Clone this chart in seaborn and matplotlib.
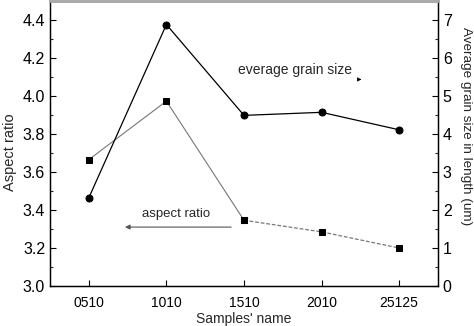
import matplotlib
matplotlib.use("Agg")
import matplotlib.pyplot as plt
import seaborn as sns
import pandas as pd
import numpy as np
from matplotlib.ticker import MultipleLocator

samples = ["0510", "1010", "1510", "2010", "25125"]
aspect_ratio = [3.665, 3.973, 3.346, 3.285, 3.20]
grain_size = [2.32, 6.88, 4.49, 4.57, 4.11]

sns.set_style("ticks")
plt.rcParams['font.family'] = ['Liberation Sans', 'DejaVu Sans']

df = pd.DataFrame({"pos": np.arange(len(samples)), "sample": samples,
                   "aspect": aspect_ratio, "grain": grain_size})

fig = plt.figure(figsize=(4.74, 3.26), dpi=100)
ax = fig.add_axes([0.1055, 0.1227, 0.8185, 0.8743])
ax2 = ax.twinx()

# aspect ratio (left axis): solid for first part, dashed afterwards
sns.lineplot(data=df.iloc[:3], x="pos", y="aspect", ax=ax, color="#777777",
             lw=0.8, marker="s", markersize=4.5, markerfacecolor="black",
             markeredgecolor="black")
sns.lineplot(data=df.iloc[2:], x="pos", y="aspect", ax=ax, color="#777777",
             lw=0.9, linestyle=(0, (3, 1.5)), marker="s", markersize=4.5,
             markerfacecolor="black", markeredgecolor="black")
# grain size (right axis)
sns.lineplot(data=df, x="pos", y="grain", ax=ax2, color="black", lw=0.9,
             marker="o", markersize=5, markerfacecolor="black",
             markeredgecolor="black")

ax.set_xlim(-0.5, len(samples) - 0.5)
ax.set_ylim(3.0, 4.5)
ax2.set_ylim(0, 7.5)
ax.set_xticks(df["pos"])
ax.set_xticklabels(samples)
ax.yaxis.set_major_locator(MultipleLocator(0.2))
ax.yaxis.set_minor_locator(MultipleLocator(0.1))
ax.yaxis.set_major_formatter(matplotlib.ticker.FormatStrFormatter("%.1f"))
ax2.yaxis.set_major_locator(MultipleLocator(1))
ax2.yaxis.set_minor_locator(MultipleLocator(0.5))

for a in (ax, ax2):
    a.tick_params(direction="in", length=4, width=0.8, labelsize=11.5, colors="black")
    a.tick_params(which="minor", direction="in", length=2.5, width=0.8)
ax.tick_params(axis="x", labelsize=10, pad=7)
ax2.spines["top"].set_visible(True)
ax2.spines["right"].set_visible(True)
for a in (ax, ax2):
    for s in ["left", "right", "bottom"]:
        a.spines[s].set_color("black")
        a.spines[s].set_linewidth(0.9)
    a.spines["top"].set_color("#aaaaaa")
    a.spines["top"].set_linewidth(2)

ax.set_xlabel("Samples' name", fontsize=10, labelpad=2)
ax.set_ylabel("Aspect ratio", fontsize=10.5)
ax.yaxis.set_label_coords(-0.085, 0.47)
ax2.set_ylabel("Average grain size in length (um)", fontsize=9.7,
               rotation=270, va="bottom")
ax2.yaxis.set_label_coords(1.057, 0.56)

# annotations
ax.annotate("", xy=(0.43, 3.31), xytext=(1.87, 3.31), xycoords="data",
            arrowprops=dict(arrowstyle="-|>", color="#555555", lw=0.8,
                            mutation_scale=7))
ax.text(1.13, 3.378, "aspect ratio", fontsize=9.5, ha="center", va="center")
ax.text(2.66, 4.135, "everage grain size", fontsize=10, ha="center", va="center")
ax.annotate("", xy=(3.55, 4.087), xytext=(3.45, 4.087), xycoords="data",
            arrowprops=dict(arrowstyle="-|>", color="black", lw=0.5,
                            mutation_scale=6))

fig.savefig("out.png", dpi=100)
